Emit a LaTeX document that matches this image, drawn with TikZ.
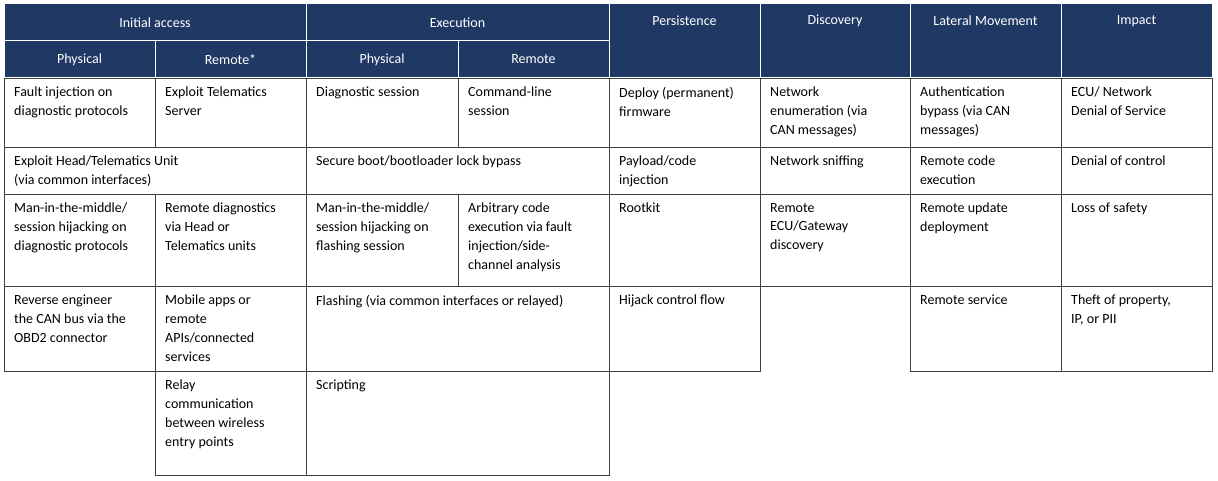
\documentclass[tikz,border=0pt]{standalone}
\usepackage{fontspec}
\setmainfont{Carlito}
\definecolor{hdr}{HTML}{1F3864}
\definecolor{grid}{HTML}{404040}
\tikzset{
  hbox/.style={draw=white,line width=1pt,fill=hdr},
  htext/.style={text=white,font=\fontsize{14}{18}\selectfont,inner sep=0pt},
  bbox/.style={draw=grid,line width=0.9pt},
  btext/.style={anchor=north west,align=left,inner sep=0pt,font=\fontsize{14}{18.7}\selectfont,text=black}
}
% \hcell{name}{x1}{y1}{x2}{y2}{text}
\newcommand\hcell[6]{\draw[hbox] (#2,#3) rectangle (#4,#5);
  \node[htext] (#1) at ({(#2+#4)/2},{(#3+#5)/2}) {#6};}
\newcommand\bcell[6]{\draw[bbox] (#2,#3) rectangle (#4,#5);
  \node[btext] (#1) at ({#2+10},{#3+9}) {#6};}
\begin{document}
\begin{tikzpicture}[x=1pt,y=-1pt]
\useasboundingbox (0,0) rectangle (1218,481);
% header
\hcell{h1}{4}{4}{306}{41}{Initial access}
\hcell{h2}{306}{4}{609}{41}{Execution}
\hcell{h3}{609}{4}{760}{78}{\raisebox{0pt}{}}
\node[htext] (h3t) at (684.5,21) {Persistence};
\hcell{h4}{760}{4}{910}{78}{}
\node[htext] (h4t) at (835,21) {Discovery};
\hcell{h5}{910}{4}{1061}{78}{}
\node[htext] (h5t) at (985.5,21) {Lateral Movement};
\hcell{h6}{1061}{4}{1212}{78}{}
\node[htext] (h6t) at (1136.5,21) {Impact};
\hcell{s1}{4}{41}{155}{78}{Physical}
\hcell{s2}{155}{41}{306}{78}{Remote*}
\hcell{s3}{306}{41}{458}{78}{Physical}
\hcell{s4}{458}{41}{609}{78}{Remote}
% row 1
\bcell{a1}{4}{78}{155}{147}{Fault injection on\\diagnostic protocols}
\bcell{a2}{155}{78}{306}{147}{Exploit Telematics\\Server}
\bcell{a3}{306}{78}{458}{147}{Diagnostic session}
\bcell{a4}{458}{78}{609}{147}{Command-line\\session}
\bcell{a5}{609}{78}{760}{147}{Deploy (permanent)\\firmware}
\bcell{a6}{760}{78}{910}{147}{Network\\enumeration (via\\CAN messages)}
\bcell{a7}{910}{78}{1061}{147}{Authentication\\bypass (via CAN\\messages)}
\bcell{a8}{1061}{78}{1212}{147}{ECU/ Network\\Denial of Service}
% row 2
\bcell{b1}{4}{147}{306}{194}{Exploit Head/Telematics Unit\\(via common interfaces)}
\bcell{b3}{306}{147}{609}{194}{Secure boot/bootloader lock bypass}
\bcell{b5}{609}{147}{760}{194}{Payload/code\\injection}
\bcell{b6}{760}{147}{910}{194}{Network sniffing}
\bcell{b7}{910}{147}{1061}{194}{Remote code\\execution}
\bcell{b8}{1061}{147}{1212}{194}{Denial of control}
% row 3
\bcell{c1}{4}{194}{155}{286}{Man-in-the-middle/\\session hijacking on\\diagnostic protocols}
\bcell{c2}{155}{194}{306}{286}{Remote diagnostics\\via Head or\\Telematics units}
\bcell{c3}{306}{194}{458}{286}{Man-in-the-middle/\\session hijacking on\\flashing session}
\bcell{c4}{458}{194}{609}{286}{Arbitrary code\\execution via fault\\injection/side-\\channel analysis}
\bcell{c5}{609}{194}{760}{286}{Rootkit}
\bcell{c6}{760}{194}{910}{286}{Remote\\ECU/Gateway\\discovery}
\bcell{c7}{910}{194}{1061}{286}{Remote update\\deployment}
\bcell{c8}{1061}{194}{1212}{286}{Loss of safety}
% row 4
\bcell{d1}{4}{286}{155}{371}{Reverse engineer\\the CAN bus via the\\OBD2 connector}
\bcell{d2}{155}{286}{306}{371}{Mobile apps or\\remote\\APIs/connected\\services}
\bcell{d3}{306}{286}{609}{371}{Flashing (via common interfaces or relayed)}
\bcell{d5}{609}{286}{760}{371}{Hijack control flow}
\bcell{d7}{910}{286}{1061}{371}{Remote service}
\bcell{d8}{1061}{286}{1212}{371}{Theft of property,\\IP, or PII}
% row 5
\bcell{e2}{155}{371}{306}{475}{Relay\\communication\\between wireless\\entry points}
\bcell{e3}{306}{371}{609}{475}{Scripting}
\end{tikzpicture}
\end{document}
